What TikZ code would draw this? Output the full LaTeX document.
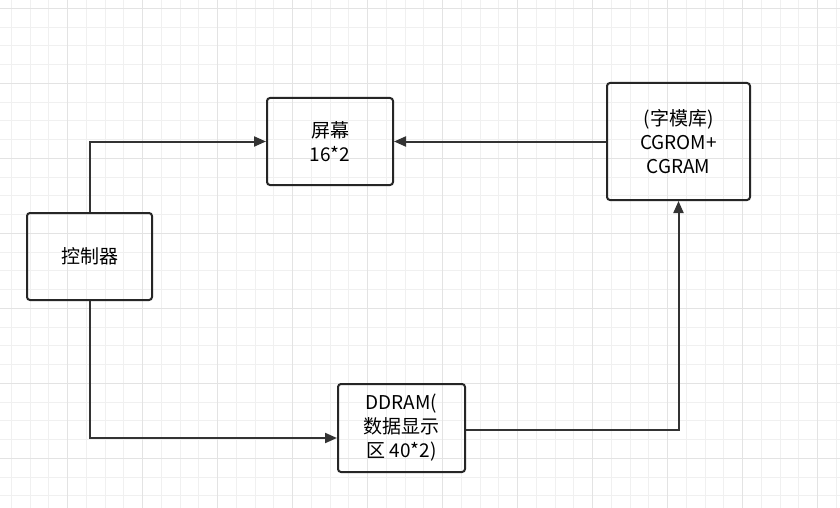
\documentclass[tikz,border=0pt]{standalone}
\usepackage{fontspec}
\setmainfont{Noto Sans CJK SC}
\usetikzlibrary{arrows.meta}
\begin{document}
\begin{tikzpicture}[x=1pt,y=-1pt,
 box/.style={draw=black!85,line width=2pt,rounded corners=3pt,align=center,font=\fontsize{19}{24}\selectfont,inner sep=0},
 conn/.style={draw=black!80,line width=2pt,-{Triangle[length=12pt,width=10pt]}}]
\useasboundingbox (0,0) rectangle (840,508);
\fill[white] (0,0) rectangle (840,508);
\begin{scope}
\clip (0,0) rectangle (840,508);
\foreach \i in {0,...,44} {\draw[black!6,line width=0.8pt] (11.2+\i*18.75,0) -- (11.2+\i*18.75,508);}
\foreach \i in {0,...,26} {\draw[black!6,line width=0.8pt] (0,8.3+\i*18.75) -- (840,8.3+\i*18.75);}
\foreach \i in {0,...,10} {\draw[black!11,line width=0.8pt] (67.7+\i*75,0) -- (67.7+\i*75,508);}
\foreach \i in {0,...,6} {\draw[black!11,line width=0.8pt] (0,8.3+\i*75) -- (840,8.3+\i*75);}
\end{scope}
\node[box,minimum width=126pt,minimum height=87pt] (scr) at (330,141.5) {屏幕\\16*2};
\node[box,minimum width=143pt,minimum height=117pt] (cg) at (678.5,141.5) {(字模库)\\CGROM+\\CGRAM};
\node[box,minimum width=125pt,minimum height=87pt] (ctl) at (89.5,256.5) {控制器};
\node[box,minimum width=127pt,minimum height=88pt] (dd) at (401.5,428) {DDRAM(\\数据显示\\区 40*2)};
\draw[conn] (ctl.north) |- (scr.west);
\draw[conn] (ctl.south) |- ([yshift=-10pt]dd.west);
\draw[conn] ([yshift=-2pt]dd.east) -| (cg.south);
\draw[conn] (cg.west) -- (scr.east);
\end{tikzpicture}
\end{document}
